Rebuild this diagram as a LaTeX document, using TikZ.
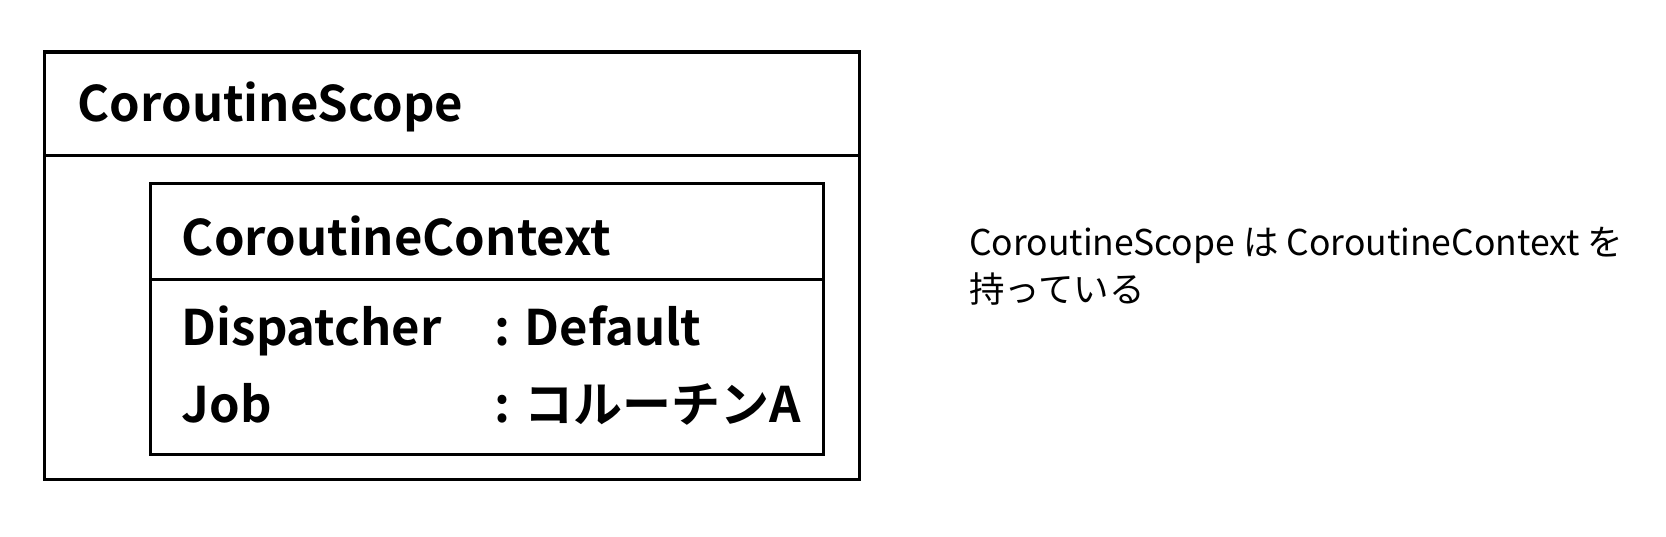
\documentclass[tikz,border=0pt]{standalone}
\usepackage{fontspec}
\setmainfont{Noto Sans CJK JP}[BoldFont={Noto Sans CJK JP Bold}]
\begin{document}
\begin{tikzpicture}[x=1.0625pt,y=-1.0625pt,
  box/.style={draw=black,line width=3.2pt},
  big/.style={font=\fontsize{49}{58}\selectfont\bfseries,inner sep=0pt,anchor=base west},
  note/.style={font=\fontsize{35.5}{45}\selectfont,inner sep=0pt,anchor=base west}]
\useasboundingbox (0,0) rectangle (1568,504.5);
\fill[white] (0,0) rectangle (1568,504.5);
\draw[box] (42,49) rectangle (809,451);
\draw[box] (42,146) -- (809,146);
\draw[box] (142,173) rectangle (775,428);
\draw[box] (142,263) -- (775,263);
\node[big] (scope) at (73,114) {CoroutineScope};
\node[big] (ctx) at (171,240) {CoroutineContext};
\node[big] (disp) at (171,325) {Dispatcher};
\node[big] (dispv) at (465,325) {: Default};
\node[big] (job) at (171,398) {Job};
\node[big] (jobv) at (465,398) {: コルーチンA};
\node[note] (n1) at (912,240) {CoroutineScope は CoroutineContext を};
\node[note] (n2) at (912,285) {持っている};
\end{tikzpicture}
\end{document}
